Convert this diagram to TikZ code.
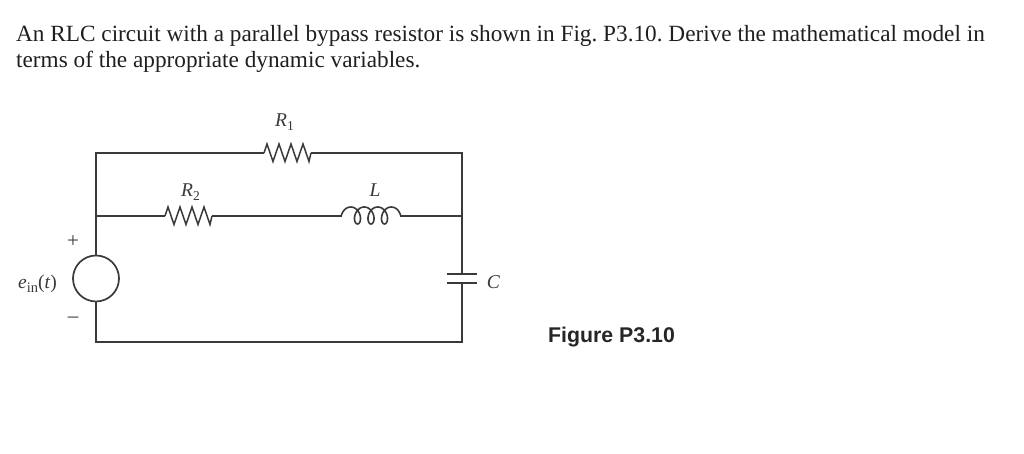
\documentclass[tikz,border=0pt]{standalone}
\usepackage{fontspec}
\usetikzlibrary{calc}
\setmainfont{Liberation Serif}
\newfontfamily\figfont{Liberation Sans}
\definecolor{ink}{HTML}{3A3A3A}
\frenchspacing
\tikzset{
  wire/.style={draw=ink,line width=1.7pt,line join=miter},
  para/.style={anchor=base west,inner sep=0pt,text=black!88,font=\fontsize{23.25}{26}\selectfont},
  lab/.style={inner sep=0pt,text=ink,font=\fontsize{19.5}{20}\selectfont},
  sign/.style={inner sep=0pt,text=ink,font=\fontsize{21}{20}\selectfont},
  srcnode/.style={circle,draw=ink,line width=1.7pt,minimum size=46pt,inner sep=0pt},
  junc/.style={coordinate}
}
\begin{document}
\begin{tikzpicture}[x=1pt,y=1pt]
\useasboundingbox (0,0) rectangle (1024,454);
\fill[white] (0,0) rectangle (1024,454);
\node[para] (l1) at (16,454-41.5) {An RLC circuit with a parallel bypass resistor is shown in Fig. P3.10. Derive the mathematical model in};
\node[para] (l2) at (16,454-67.5) {terms of the appropriate dynamic variables.};
% corners
\coordinate (tl) at (96,454-153);
\coordinate (tr) at (462,454-153);
\coordinate (ml) at (96,454-216);
\coordinate (mr) at (462,454-216);
\coordinate (bl) at (96,454-342);
\coordinate (br) at (462,454-342);
\node[srcnode] (src) at (96,454-278.5) {};
\coordinate (r1a) at (264,454-153);
\coordinate (r1b) at (311,454-153);
\coordinate (r2a) at (165,454-216);
\coordinate (r2b) at (212,454-216);
\coordinate (la) at (342,454-216);
\coordinate (lb) at (400,454-216);
\node[junc] (c1) at (462,454-274) {};
\node[junc] (c2) at (462,454-283) {};
\draw[wire] (src.north) -- (tl) -- (r1a);
\draw[wire] (r1b) -- (tr) -- (c1);
\draw[wire] (ml) -- (r2a);
\draw[wire] (r2b) -- (la);
\draw[wire] (lb) -- (mr);
\draw[wire] (src.south) -- (bl) -- (br) -- (c2);
% resistors
\foreach \a/\b in {r1a/r1b,r2a/r2b}{
  \draw[wire,line width=1.5pt] (\a)
   -- ++(3,9) -- ++(6,-17.5) -- ++(6,17.5) -- ++(6,-17.5) -- ++(6,17.5) -- ++(6,-17.5) -- ++(6,17.5) -- ++(6,-17.5) -- (\b);
}
% inductor
\draw[wire,line width=1.6pt] plot[smooth,samples=110,domain=-1.5708:20.42,variable=\t]
  ({371+2.15*(\t-9.4248)+6*sin(deg(\t))},{454-215.5+8.5*cos(deg(\t))});
% capacitor
\draw[wire] ($(c1)+(-15,0)$) -- ($(c1)+(15,0)$);
\draw[wire] ($(c2)+(-15,0)$) -- ($(c2)+(15,0)$);
% labels
\node[lab] (tR1) at (284.5,454-122) {\textit{R}\raisebox{-4pt}{\fontsize{13.5}{13}\selectfont 1}};
\node[lab] (tR2) at (190.5,454-192) {\textit{R}\raisebox{-4pt}{\fontsize{13.5}{13}\selectfont 2}};
\node[lab] (tL) at (375,454-190) {\textit{L}};
\node[lab] (tC) at (493.5,454-282) {\textit{C}};
\node[lab] (tE) at (37.5,454-284) {\textit{e}\raisebox{-4pt}{\fontsize{14.5}{13}\selectfont in}(\textit{t})};
\node[sign] (plus) at (73,454-241.5) {+};
\node[sign] (minus) at (73,454-320) {–};
\node[anchor=base west,inner sep=0pt,text=black!85] (fig) at (548,454-343) {\figfont\bfseries\fontsize{21.3}{24}\selectfont Figure P3.10};
\end{tikzpicture}
\end{document}
